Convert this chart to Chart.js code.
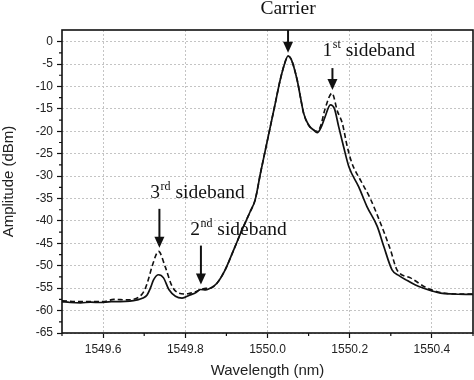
<!DOCTYPE html>
<html><head><meta charset="utf-8">
<script src="https://cdn.jsdelivr.net/npm/chart.js@4"></script>
<style>html,body{margin:0;padding:0;background:#fff;}canvas{display:block;}</style>
</head><body>
<canvas id="c" width="474" height="380"></canvas>
<script>
// ---- data ----
const solidWavelength = [1549.5, 1549.52, 1549.545, 1549.57, 1549.593, 1549.62, 1549.642, 1549.665, 1549.683, 1549.697, 1549.707, 1549.715, 1549.723, 1549.735, 1549.747, 1549.76, 1549.776, 1549.792, 1549.80, 1549.812, 1549.825, 1549.837, 1549.85, 1549.861, 1549.877, 1549.897, 1549.918, 1549.938, 1549.958, 1549.970, 1549.983, 1549.995, 1550.007, 1550.019, 1550.031, 1550.042, 1550.050, 1550.058, 1550.072, 1550.080, 1550.088, 1550.100, 1550.112, 1550.121, 1550.130, 1550.140, 1550.153, 1550.163, 1550.173, 1550.185, 1550.198, 1550.222, 1550.242, 1550.267, 1550.283, 1550.303, 1550.320, 1550.340, 1550.360, 1550.380, 1550.400, 1550.421, 1550.45, 1550.5];
const solidAmplitude = [-58.0, -58.2, -58.3, -58.1, -58.2, -58.0, -58.0, -57.9, -57.6, -57.2, -56.5, -55.0, -53.1, -52.0, -52.7, -55.3, -56.8, -57.2, -57.0, -56.5, -56.0, -55.3, -55.4, -55.0, -53.9, -50.9, -46.4, -42.0, -37.9, -35.3, -29.3, -24.1, -18.9, -13.7, -8.5, -4.8, -3.2, -4.0, -8.5, -12.3, -16.0, -18.6, -19.7, -20.3, -19.2, -16.8, -14.1, -15.0, -18.9, -23.4, -27.9, -32.4, -36.8, -41.2, -45.7, -50.9, -52.2, -53.3, -54.3, -55.0, -55.6, -56.1, -56.3, -56.4];
const dashedWavelength = [1549.5, 1549.545, 1549.601, 1549.626, 1549.658, 1549.683, 1549.695, 1549.703, 1549.711, 1549.719, 1549.735, 1549.751, 1549.768, 1549.784, 1549.80, 1549.812, 1549.825, 1549.837, 1549.85, 1549.861, 1549.877, 1549.897, 1549.918, 1549.938, 1549.958, 1549.970, 1549.983, 1549.995, 1550.007, 1550.019, 1550.031, 1550.042, 1550.050, 1550.058, 1550.072, 1550.080, 1550.088, 1550.100, 1550.112, 1550.121, 1550.129, 1550.140, 1550.157, 1550.170, 1550.182, 1550.194, 1550.205, 1550.228, 1550.250, 1550.275, 1550.299, 1550.315, 1550.348, 1550.389, 1550.437, 1550.47, 1550.5];
const dashedAmplitude = [-57.8, -58.0, -58.0, -57.5, -57.6, -57.2, -56.3, -55.0, -52.8, -50.2, -46.8, -50.2, -54.6, -56.1, -56.3, -56.1, -55.8, -55.3, -55.0, -55.0, -53.9, -50.9, -46.4, -42.0, -37.9, -35.3, -29.3, -24.1, -18.9, -13.7, -8.5, -4.8, -3.2, -4.0, -8.5, -12.3, -16.0, -18.6, -19.7, -20.0, -18.9, -15.0, -11.5, -15.5, -18.2, -23.4, -27.0, -31.2, -35.0, -40.5, -46.4, -50.9, -52.7, -55.0, -56.2, -56.3, -56.3];
const xTickValues = [1549.6, 1549.8, 1550.0, 1550.2, 1550.4];
const xMinorTickValues = [1549.5, 1549.7, 1549.9, 1550.1, 1550.3, 1550.5];
const yTickValues = [0, -5, -10, -15, -20, -25, -30, -35, -40, -45, -50, -55, -60, -65];
const yMinorTickValues = [-2.5, -7.5, -12.5, -17.5, -22.5, -27.5, -32.5, -37.5, -42.5, -47.5, -52.5, -57.5, -62.5];

// ---- annotations (text + arrow in data coordinates) ----
const annotationTexts = [
  {main: '1', sup: 'st', rest: ' sideband', x: 1550.134, y: -3.2},
  {main: '3', sup: 'rd', rest: ' sideband', x: 1549.715, y: -34.8},
  {main: '2', sup: 'nd', rest: ' sideband', x: 1549.812, y: -43.1}
];
const annotationArrows = [
  {x: 1550.05, y0: 2.6, y1: -2.5},
  {x: 1550.158, y0: -5.9, y1: -10.8},
  {x: 1549.737, y0: -37.3, y1: -46.0},
  {x: 1549.838, y0: -45.5, y1: -54.2}
];
const carrierLabel = {text: 'Carrier', x: 1550.05};

const SERIF = '"Liberation Serif", "DejaVu Serif", serif';
const SANS = '"Liberation Sans", Arial, sans-serif';
Chart.defaults.font.family = SANS;

const decorPlugin = {
  id: 'decor',
  afterDatasetsDraw(chart) {
    const ctx = chart.ctx, xs = chart.scales.x, ys = chart.scales.y, a = chart.chartArea;
    ctx.save();
    // frame
    ctx.strokeStyle = '#111'; ctx.lineWidth = 1.6; ctx.setLineDash([]);
    ctx.strokeRect(a.left, a.top, a.right - a.left, a.bottom - a.top);
    // minor ticks
    ctx.lineWidth = 1.2;
    ctx.beginPath();
    xMinorTickValues.forEach(v => { const p = xs.getPixelForValue(v); ctx.moveTo(p, a.bottom); ctx.lineTo(p, a.bottom + 3); });
    yMinorTickValues.forEach(v => { const p = ys.getPixelForValue(v); ctx.moveTo(a.left - 3, p); ctx.lineTo(a.left, p); });
    ctx.stroke();
    // arrows
    ctx.fillStyle = '#111'; ctx.strokeStyle = '#111';
    annotationArrows.forEach(ar => {
      const px = xs.getPixelForValue(ar.x), p0 = ys.getPixelForValue(ar.y0), p1 = ys.getPixelForValue(ar.y1);
      ctx.lineWidth = 2;
      ctx.beginPath(); ctx.moveTo(px, p0); ctx.lineTo(px, p1 - 9); ctx.stroke();
      ctx.beginPath(); ctx.moveTo(px - 5, p1 - 11); ctx.lineTo(px + 5, p1 - 11); ctx.lineTo(px, p1); ctx.closePath(); ctx.fill();
    });
    // texts
    ctx.textBaseline = 'alphabetic'; ctx.textAlign = 'left';
    annotationTexts.forEach(t => {
      let px = xs.getPixelForValue(t.x); const py = ys.getPixelForValue(t.y);
      ctx.font = '19.5px ' + SERIF; ctx.fillText(t.main, px, py); px += ctx.measureText(t.main).width;
      ctx.font = '12px ' + SERIF; ctx.fillText(t.sup, px + 0.5, py - 8); px += ctx.measureText(t.sup).width + 0.5;
      ctx.font = '19.5px ' + SERIF; ctx.fillText(t.rest, px, py);
    });
    ctx.font = '19.5px ' + SERIF; ctx.textAlign = 'center';
    ctx.fillText(carrierLabel.text, xs.getPixelForValue(carrierLabel.x), a.top - 16);
    ctx.restore();
  }
};

const toPts = (xsArr, ysArr) => xsArr.map((x, i) => ({x, y: ysArr[i]}));

new Chart(document.getElementById('c'), {
  type: 'line',
  data: {
    datasets: [
      {data: toPts(dashedWavelength, dashedAmplitude), borderColor: '#111', borderWidth: 1.6, borderDash: [5, 3], pointRadius: 0, cubicInterpolationMode: 'monotone', fill: false, order: 2},
      {data: toPts(solidWavelength, solidAmplitude), borderColor: '#111', borderWidth: 1.7, pointRadius: 0, cubicInterpolationMode: 'monotone', fill: false, order: 1}
    ]
  },
  options: {
    responsive: false, animation: false, devicePixelRatio: 1,
    layout: {padding: {top: 30, right: 1, left: 0, bottom: 0}},
    plugins: {legend: {display: false}, tooltip: {enabled: false}},
    scales: {
      x: {
        type: 'linear', min: 1549.5, max: 1550.5,
        afterBuildTicks: s => { s.ticks = xTickValues.map(v => ({value: v})); },
        afterFit: s => { s.height = 47; },
        ticks: {font: {size: 12}, color: '#222', padding: 4, maxRotation: 0, autoSkip: false, callback: v => Number(v).toFixed(1)},
        grid: {color: '#c4c4c4', lineWidth: 1, drawTicks: true, tickLength: 5, tickColor: '#111', tickWidth: 1.2},
        border: {display: false, dash: [2, 2]},
        title: {display: true, text: 'Wavelength (nm)', font: {size: 15}, color: '#222', padding: 0}
      },
      y: {
        type: 'linear', min: -65, max: 2.6,
        afterBuildTicks: s => { s.ticks = yTickValues.map(v => ({value: v})); },
        afterFit: s => { s.width = 62; },
        ticks: {font: {size: 12}, color: '#222', padding: 4, autoSkip: false, callback: v => String(v)},
        grid: {color: '#c4c4c4', lineWidth: 1, drawTicks: true, tickLength: 5, tickColor: '#111', tickWidth: 1.2},
        border: {display: false, dash: [2, 2]},
        title: {display: true, text: 'Amplitude (dBm)', font: {size: 15}, color: '#222', padding: 0}
      }
    }
  },
  plugins: [decorPlugin]
});
</script>
</body></html>
